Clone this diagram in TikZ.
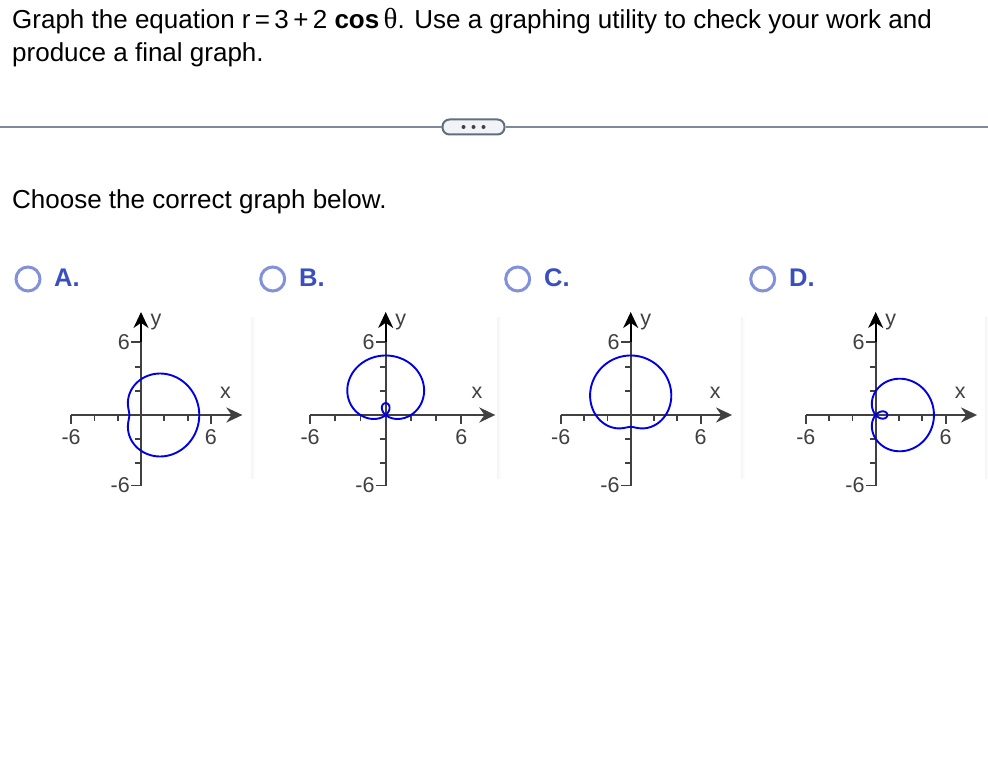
\documentclass[tikz,border=0pt]{standalone}
\usepackage{fontspec}
\setmainfont{Liberation Sans}
\newfontfamily\thetafont{Liberation Serif}
\usetikzlibrary{arrows.meta,positioning,calc}
\definecolor{axisgray}{HTML}{404040}
\definecolor{rulegray}{HTML}{7F8A99}
\definecolor{pillgray}{HTML}{5F6F80}
\definecolor{pillfill}{HTML}{F2F3F6}
\definecolor{radioblue}{HTML}{8291DA}
\definecolor{letterblue}{HTML}{3A4FBF}
\definecolor{curveblue}{HTML}{0000E0}
\tikzset{
    x=1pt,y=-1pt,
    bodytext/.style={anchor=base west,inner sep=0pt,font=\fontsize{26}{30}\selectfont},
    letter/.style={anchor=base west,inner sep=0pt,text=letterblue,font=\fontsize{25.5}{30}\selectfont\bfseries},
    radio/.style={circle,draw=radioblue,line width=3pt,minimum size=24pt,inner sep=0pt},
    ticklabel/.style={inner sep=0pt,text=axisgray,font=\fontsize{21.5}{24}\selectfont},
    axisline/.style={axisgray,line width=2.2pt},
    tickline/.style={axisgray,line width=1.8pt},
    edgeshade/.style={draw=none,left color=black!4,right color=white},
}
% one answer: name, letter, radio x, letter x, origin x, x scale, r(\t)
\newcommand{\answerpanel}[7]{
    \node[radio] (radio#1) at (#3,279) {};
    \node[letter] (letter#1) at (#4,287) {#2.};
    % Axes
    \coordinate (o#1) at (#5,415);
    \coordinate (xmin#1) at (#5-6*#6,415);
    \coordinate (xtip#1) at (#5+8.7*#6,415);
    \coordinate (ytop#1) at (#5,342);
    \coordinate (ytip#1) at (#5,312);
    \coordinate (ymin#1) at (#5,485.5);
    \foreach \k in {-4,-2,2,4}{
        \draw[tickline] (#5+\k*#6,415) -- ++(0,6);
        \draw[tickline] (#5,415+\k*11.9) -- ++(-6,0);
    }
    \draw[tickline] (xmin#1) -- ++(0,9);
    \draw[tickline] (#5+6*#6,415) -- ++(0,9);
    \draw[tickline] (ytop#1) -- ++(-10,0);
    \draw[tickline] (ymin#1) -- ++(-10,0);
    \draw[axisline,-{Stealth[length=16pt,width=15pt]}] (xmin#1) -- (xtip#1);
    \draw[axisline] (ymin#1) -- (ytop#1);
    \draw[black,line width=2.2pt,-{Stealth[length=16pt,width=15pt]}] (ytop#1) -- (ytip#1);
    % Labels
    \node[ticklabel] (xl#1) at (#5+6*#6,437.5) {6};
    \node[ticklabel] (xm#1) at (#5-6*#6,437.5) {-6};
    \node[ticklabel,anchor=east] (yl#1) at (#5-11,342) {6};
    \node[ticklabel,anchor=east] (ym#1) at (#5-11,485) {-6};
    \node[ticklabel] (xn#1) at (#5+7.25*#6,392.5) {x};
    \node[ticklabel] (yn#1) at (#5+15,322) {y};
    % Curve
    \draw[curveblue,line width=1.9pt] plot[domain=0:360,samples=181,smooth cycle,variable=\t]
        ({#5+#6*(#7)*cos(\t)},{415-11.9*(#7)*sin(\t)});
}
\begin{document}
\begin{tikzpicture}
    \useasboundingbox[fill=white] (0,0) rectangle (988,783);
    % Question
    \node[bodytext] (line1) at (12,29) {Graph the equation r\,=\,3\,+\,2 \textbf{cos}\,{\thetafont\fontsize{29}{30}\selectfont θ}. Use a graphing utility to check your work and};
    \node[bodytext] (line2) at (12,62) {produce a final graph.};
    % Separator
    \node[draw=pillgray,fill=pillfill,line width=2pt,rounded corners=7pt,minimum width=62pt,minimum height=15pt,inner sep=0pt] (pill) at (473.5,127) {};
    \coordinate (ruleleft) at (0,127);
    \coordinate (ruleright) at (988,127);
    \draw[rulegray,line width=1.8pt] (ruleleft) -- (pill.west);
    \draw[rulegray,line width=1.8pt] (pill.east) -- (ruleright);
    \foreach \d in {-10,0,10}
        \fill[axisgray] ($(pill.center)+(\d,0)$) circle (2);
    \node[bodytext] (choose) at (12,209) {Choose the correct graph below.};
    % Panel edges
    \foreach \e in {251,497,741,985}
        \fill[edgeshade] (\e,318) rectangle ++(4,160);
    % Answers
    \answerpanel{a}{A}{28}{54}{141}{11.65}{3+2*cos(\t)}
    \answerpanel{b}{B}{272.7}{299}{385.7}{12.6}{2+3*sin(\t)}
    \answerpanel{c}{C}{517.7}{544}{630.7}{11.65}{3+2*sin(\t)}
    \answerpanel{d}{D}{762.7}{789}{875.7}{11.65}{2+3*cos(\t)}
\end{tikzpicture}
\end{document}
